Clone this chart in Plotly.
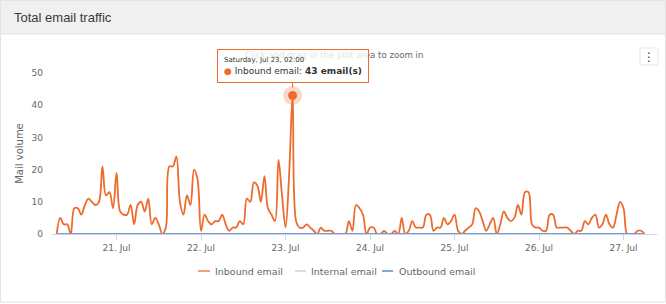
import pandas as pd
import numpy as np
import plotly.graph_objects as go

# ---------------- data ----------------
start_time = "2022-07-20 07:00"
inbound = [
    0, 5, 3, 3, 0, 8, 8, 6, 9, 11,
    10, 9, 10, 21, 12, 13, 8, 19, 7, 6,
    6, 9, 3, 9, 10, 7, 11, 3, 5, 3,
    0, 2, 21, 21, 24, 10, 6, 12, 9, 20,
    17, 1, 6, 4, 3, 4, 4, 6, 3, 1,
    2, 2, 4, 3, 11, 10, 16, 15, 10, 18,
    8, 6, 4, 23, 12, 2, 18, 43, 4, 2,
    2, 3, 2, 1, 0, 2, 1, 1, 1, 0,
    0, 0, 0, 4, 1, 9, 8, 6, 0, 2,
    2, 0, 0, 1, 0, 0, 1, 0, 5, 0,
    1, 4, 2, 2, 2, 6, 6, 1, 2, 2,
    5, 3, 4, 6, 1, 0, 1, 2, 3, 8,
    7, 4, 1, 3, 5, 0, 3, 7, 5, 4,
    5, 9, 6, 13, 13, 3, 2, 2, 1, 1,
    6, 6, 2, 2, 2, 2, 1, 0, 1, 1,
    4, 3, 5, 6, 2, 3, 6, 3, 2, 6,
    10, 8, 0, 0, 0, 1, 1, 0,
]
internal = [0] * len(inbound)
outbound = [0] * len(inbound)
times = pd.date_range(start_time, periods=len(inbound), freq="h")
series_names = ["Inbound email", "Internal email", "Outbound email"]
y_ticks = [0, 10, 20, 30, 40, 50]

# ---------------- style ----------------
ORANGE = "#ec6b2d"
GREY = "#d9d9d9"
BLUE = "#7b98cb"
LEGEND_LINE = ["#f0a07c", "#dedede", "#8aa6d6"]
FONT = "DejaVu Sans"

W, H = 666, 304
L, R, T, B = 52, 657, 73, 234  # plot area in pixels


def px(x):
    return (x - L) / (R - L)


def py(y):
    return (B - y) / (B - T)


fig = go.Figure()
for name, vals, col in zip(series_names, [inbound, internal, outbound], [ORANGE, GREY, BLUE]):
    fig.add_trace(go.Scatter(
        x=times, y=vals, name=name, mode="lines", showlegend=False,
        line=dict(color=col, width=1.8, shape="spline", smoothing=1.0),
        hoverinfo="skip",
    ))

# highlighted peak point (hover state)
imax = int(np.argmax(inbound))
tmax = times[imax]
vmax = inbound[imax]
fig.add_trace(go.Scatter(x=[tmax], y=[vmax], mode="markers", showlegend=False, hoverinfo="skip",
                         marker=dict(size=19, color="rgba(236,107,45,0.25)", line=dict(width=0))))
fig.add_trace(go.Scatter(x=[tmax], y=[vmax], mode="markers", showlegend=False, hoverinfo="skip",
                         marker=dict(size=9, color=ORANGE, line=dict(width=0))))

shapes = [
    # card border
    dict(type="rect", xref="paper", yref="paper", x0=px(0.5), x1=px(665.5), y0=py(302), y1=py(0.5),
         line=dict(color="#e2e2e2", width=1), fillcolor="rgba(0,0,0,0)", layer="below"),
    # header band
    dict(type="rect", xref="paper", yref="paper", x0=px(0.5), x1=px(665.5), y0=py(34), y1=py(0.5),
         line=dict(color="#e4e4e4", width=1), fillcolor="#f0f0f0", layer="below"),
    # menu button
    dict(type="rect", xref="paper", yref="paper", x0=px(640), x1=px(658), y0=py(65), y1=py(48),
         line=dict(color="#e6e6e6", width=1), fillcolor="white", layer="above"),
]

date_label = tmax.strftime("%A, %b %d, %H:%M")
annotations = [
    dict(text="Total email traffic", xref="paper", yref="paper", x=px(12), y=py(17),
         xanchor="left", yanchor="middle", showarrow=False,
         font=dict(family="Liberation Sans, Arial", size=13, color="#3a3a3a")),
    dict(text="Click and drag in the plot area to zoom in", xref="paper", yref="paper",
         x=px(334), y=py(55), xanchor="center", yanchor="middle", showarrow=False,
         font=dict(family=FONT, size=8.6, color="#666")),
    dict(text="⋮", xref="paper", yref="paper", x=px(649), y=py(56.5), xanchor="center",
         yanchor="middle", showarrow=False, font=dict(family=FONT, size=12, color="#333")),
    dict(text=(f"<span style='font-size:7px'>{date_label}</span><br>"
               f"<span style='color:{ORANGE}'>●</span> Inbound email: <b>{vmax} email(s)</b>"),
         x=tmax, y=vmax, xref="x", yref="y", ax=0, ay=-30, showarrow=True,
         arrowhead=0, arrowwidth=1, arrowcolor=ORANGE, standoff=8, align="left",
         bgcolor="rgba(255,255,255,0.8)", bordercolor=ORANGE, borderwidth=1, borderpad=6,
         font=dict(family=FONT, size=9, color="#333")),
]

# legend (Highcharts-style short line symbols)
legend_line_x = [(198, 210), (295, 306), (382, 393)]
legend_text_x = [213, 309, 397]
legend_y = 271
for name, col, (lx0, lx1), tx in zip(series_names, LEGEND_LINE, legend_line_x, legend_text_x):
    shapes.append(dict(type="line", xref="paper", yref="paper", x0=px(lx0), x1=px(lx1),
                       y0=py(legend_y), y1=py(legend_y), line=dict(color=col, width=2)))
    annotations.append(dict(text=name, xref="paper", yref="paper", x=px(tx), y=py(legend_y),
                            xanchor="left", yanchor="middle", showarrow=False,
                            font=dict(family=FONT, size=9.5, color="#666")))

fig.update_layout(
    width=W, height=H,
    margin=dict(l=L, r=W - R, t=T, b=H - B, autoexpand=False),
    paper_bgcolor="white", plot_bgcolor="white",
    font=dict(family=FONT, size=9, color="#666"),
    showlegend=False,
    xaxis=dict(type="date", range=["2022-07-20 05:40", "2022-07-27 09:30"],
               tick0="2022-07-21", dtick=86400000, tickformat="%d. %b",
               showgrid=False, zeroline=False, showline=True, linecolor="#ccd6eb", linewidth=1,
               ticks="outside", ticklen=5, tickcolor="#ccd6eb",
               tickfont=dict(family=FONT, size=9, color="#666"), fixedrange=True),
    yaxis=dict(range=[0, 50], tickvals=y_ticks, showgrid=False, zeroline=False, showline=False,
               ticks="", ticklabelstandoff=8,
               tickfont=dict(family=FONT, size=9, color="#666"),
               title=dict(text="Mail volume", font=dict(family=FONT, size=10, color="#666"), standoff=6),
               fixedrange=True),
    shapes=shapes,
    annotations=annotations,
)

fig.write_html("out.html", config={"displayModeBar": False})
